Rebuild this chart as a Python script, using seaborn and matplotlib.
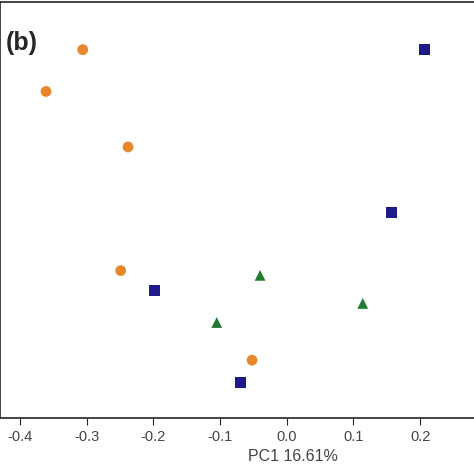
import matplotlib
matplotlib.use("Agg")
import matplotlib.pyplot as plt
import seaborn as sns
import pandas as pd

# PCA scores
orange_x = [-0.306, -0.361, -0.238, -0.249, -0.052]
orange_y = [0.270, 0.200, 0.107, -0.100, -0.250]
blue_x = [0.207, 0.157, -0.198, -0.069]
blue_y = [0.270, -0.003, -0.133, -0.288]
green_x = [-0.040, 0.114, -0.105]
green_y = [-0.108, -0.155, -0.187]

df = pd.DataFrame({
    "PC1": orange_x + blue_x + green_x,
    "PC2": orange_y + blue_y + green_y,
    "group": ["A"] * len(orange_x) + ["B"] * len(blue_x) + ["C"] * len(green_x),
})

sns.set_style("ticks")
plt.rcParams["font.family"] = ["Liberation Sans", "DejaVu Sans"]
plt.rcParams["axes.unicode_minus"] = False
fig = plt.figure(figsize=(4.74, 4.74), dpi=100)
ax = fig.add_axes([0.0, 0.118, 1.238, 0.878])
sns.scatterplot(data=df, x="PC1", y="PC2", hue="group", style="group",
                markers={"A": "o", "B": "s", "C": "^"},
                palette={"A": "#E8862A", "B": "#1F1A8A", "C": "#1F7A32"},
                s=60, edgecolor="none", legend=False, ax=ax)
ax.set_xlim(-0.43, 0.45)
ax.set_ylim(-0.347, 0.35)
ax.set_xticks([-0.4, -0.3, -0.2, -0.1, 0.0, 0.1, 0.2, 0.3, 0.4])
ax.set_yticks([])
ax.set_xlabel("PC1 16.61%", fontsize=11.5, color="#444444")
ax.set_ylabel("")
ax.tick_params(axis="x", labelsize=10.5, labelcolor="#444444", direction="out", length=5)
for s in ax.spines.values():
    s.set_linewidth(1.2)
fig.text(0.012, 0.895, "(b)", fontsize=18, fontweight="bold")
fig.savefig("out.png", dpi=100)
